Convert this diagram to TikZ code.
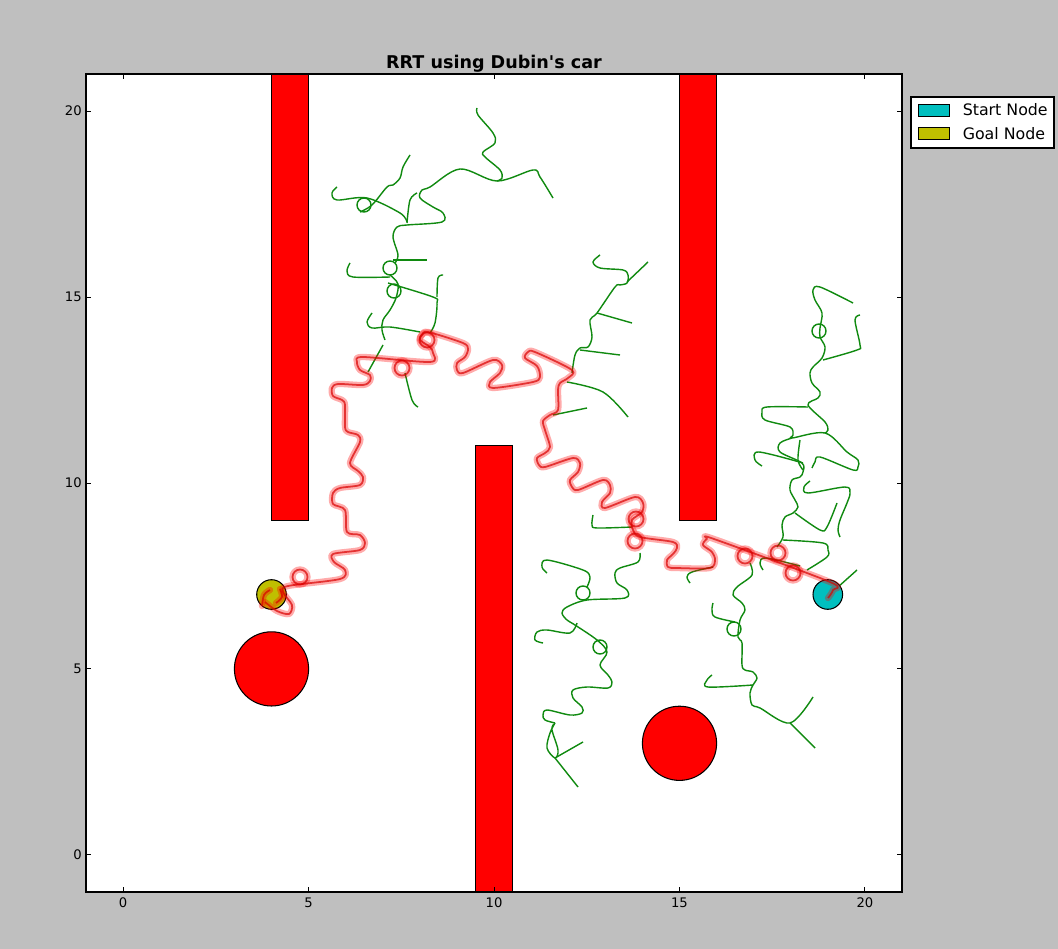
\documentclass[tikz,border=0pt]{standalone}
\usepackage{fontspec}
\setmainfont{DejaVu Sans}
\usetikzlibrary{positioning}
\definecolor{figgray}{HTML}{BFBFBF}
\definecolor{startc}{HTML}{00BFBF}
\definecolor{goalc}{HTML}{BFBF00}
\definecolor{treeg}{HTML}{108A10}

\begin{document}
\begin{tikzpicture}[
    x=0.02cm,y=-0.02cm,
    obst/.style={draw=black,line width=0.6pt,fill=red},
    tree/.style={draw=treeg,line width=0.8pt,line join=round},
    halo/.style={draw=red,opacity=0.33,line width=3.6pt,line join=round,line cap=round},
    route/.style={draw=red!85!black,opacity=0.7,line width=1pt,line join=round},
    ticklab/.style={font=\fontsize{7.5}{9}\selectfont,inner sep=0pt},
    legtext/.style={font=\fontsize{9}{11}\selectfont,inner sep=0pt,anchor=west},
    patch/.style={draw=black,line width=0.5pt,minimum width=0.62cm,minimum height=0.24cm,inner sep=0pt}
  ]
  % figure background and axes area
  \fill[figgray] (0,0) rectangle (1058,949);
  \fill[white] (86,74) rectangle (902,892);

  % obstacles
  \draw[obst] (271.5,74) rectangle (308.6,520.2);
  \draw[obst] (679.5,74) rectangle (716.5,520.2);
  \draw[obst] (475.5,892) rectangle (512.5,445.8);
  \draw[obst] (271.5,668.9) circle[radius=37.1];
  \draw[obst] (679.5,743.3) circle[radius=37.1];

  % explored tree
  \draw[tree] plot[smooth,tension=0.55] coordinates {(477,108) (478,115) (493,133) (495,143) (483,152) (485,157) (500,170) (502,178) (497,181)};
  \draw[tree] plot[smooth,tension=0.55] coordinates {(553,198) (540,177) (533,170) (497,181) (460,169) (430,187) (422,190) (420,198) (433,207) (443,213) (442,222) (407,225) (397,227) (393,237) (398,255) (395,263)};
  \draw[tree] (390,268) circle[radius=7];
  \draw[tree] plot[smooth,tension=0.55] coordinates {(390,275) (398,284) (396,298) (390,310) (383,320) (382,330) (385,340)};
  \draw[tree] (394,291) circle[radius=7];
  \draw[tree] plot[smooth,tension=0.55] coordinates {(350,263) (347,271) (353,277) (390,277)};
  \draw[tree] (393,260) -- (427,260);
  \draw[tree] plot[smooth,tension=0.55] coordinates {(410,155) (403,167) (400,178) (393,185) (387,187) (372,205) (360,212)};
  \draw[tree] (364,205) circle[radius=7];
  \draw[tree] plot[smooth,tension=0.55] coordinates {(337,187) (332,193) (337,200) (367,198) (400,213) (407,222)};
  \draw[tree] plot[smooth,tension=0.55] coordinates {(417,193) (410,200) (407,223)};
  \draw[tree] plot[smooth,tension=0.55] coordinates {(388,283) (433,297) (437,303) (435,323) (430,333)};
  \draw[tree] plot[smooth,tension=0.55] coordinates {(443,275) (438,278) (437,297)};
  \draw[tree] plot[smooth,tension=0.55] coordinates {(372,313) (367,322) (372,328) (390,327) (420,332)};
  \draw[tree] (383,345) -- (368,372);
  \draw[tree] plot[smooth,tension=0.55] coordinates {(405,373) (412,400) (418,407)};

  \draw[tree] plot[smooth,tension=0.55] coordinates {(572,373) (575,355) (580,348) (588,347) (592,337) (590,320) (597,313) (615,287) (620,285) (627,283) (628,275) (623,270) (600,268) (593,262) (600,255)};
  \draw[tree] (627,282) -- (648,262);
  \draw[tree] (597,313) -- (632,323);
  \draw[tree] (580,350) -- (620,355);
  \draw[tree] plot[smooth,tension=0.55] coordinates {(567,382) (603,392) (628,417)};
  \draw[tree] (553,415) -- (587,408);

  \draw[tree] plot[smooth,tension=0.55] coordinates {(853,303) (820,287) (813,290) (815,300) (822,313) (820,328) (820,337) (825,347) (822,358) (813,367) (810,373) (812,383) (820,392) (818,398) (808,405) (825,422) (828,430) (825,433)};
  \draw[tree] (819,331) circle[radius=7];
  \draw[tree] plot[smooth,tension=0.55] coordinates {(808,407) (767,407) (762,412) (765,420) (790,427) (793,435) (792,438) (825,433) (847,452) (858,460) (858,467) (853,470) (820,457) (815,462) (812,468)};
  \draw[tree] plot[smooth,tension=0.55] coordinates {(860,315) (855,320) (860,345) (857,350) (823,360)};
  \draw[tree] plot[smooth,tension=0.55] coordinates {(792,438) (780,443) (780,452) (802,463) (803,472) (800,477) (792,480) (790,490) (795,500) (798,507) (793,513) (785,517) (782,525) (783,537) (777,547)};
  \draw[tree] plot[smooth,tension=0.55] coordinates {(762,466) (755,460) (759,452) (803,463)};
  \draw[tree] plot[smooth,tension=0.55] coordinates {(800,440) (798,460) (803,470)};
  \draw[tree] plot[smooth,tension=0.55] coordinates {(810,481) (804,487) (808,493) (845,487) (850,493) (847,503) (840,520) (838,530) (840,537)};
  \draw[tree] plot[smooth,tension=0.55] coordinates {(795,513) (820,530) (827,527) (837,503)};
  \draw[tree] plot[smooth,tension=0.55] coordinates {(783,540) (823,543) (828,550) (827,557) (807,570)};
  \draw[tree] plot[smooth,tension=0.55] coordinates {(763,570) (760,563) (766,558) (800,566)};
  \draw[tree] (838,587) -- (857,570);

  \draw[tree] plot[smooth,tension=0.55] coordinates {(640,553) (638,562) (620,568) (615,573) (617,583) (627,590) (625,598) (587,600) (567,607) (562,613) (567,620) (575,625) (597,640) (607,652) (600,665) (608,675) (612,682) (608,688) (587,687) (573,690) (573,698) (582,707) (582,713) (570,715) (547,710) (543,715) (545,720) (555,723)};
  \draw[tree] (600,647) circle[radius=7];
  \draw[tree] plot[smooth,tension=0.55] coordinates {(555,723) (550,733) (547,748) (555,758) (558,750) (552,730) (554,724)};
  \draw[tree] (555,758) -- (583,742);
  \draw[tree] (555,758) -- (578,787);
  \draw[tree] plot[smooth,tension=0.55] coordinates {(543,643) (535,640) (537,632) (547,630) (570,633) (577,623)};
  \draw[tree] plot[smooth,tension=0.55] coordinates {(547,573) (542,567) (547,560) (583,570) (590,577) (587,587)};
  \draw[tree] (583,593) circle[radius=7];
  \draw[tree] plot[smooth,tension=0.55] coordinates {(593,515) (592,525) (597,528) (632,527)};

  \draw[tree] plot[smooth,tension=0.55] coordinates {(750,563) (752,575) (737,587) (733,595) (742,603) (745,610) (740,620) (738,637) (742,643) (742,665) (745,670) (753,672) (757,678) (753,685) (750,693) (752,705) (760,708) (790,723) (813,697)};
  \draw[tree] (734,629) circle[radius=7];
  \draw[tree] (790,723) -- (815,748);
  \draw[tree] plot[smooth,tension=0.55] coordinates {(713,603) (712,610) (715,617) (735,622)};
  \draw[tree] plot[smooth,tension=0.55] coordinates {(712,675) (707,680) (708,687) (753,685)};
  \draw[tree] plot[smooth,tension=0.55] coordinates {(690,583) (687,577) (692,572) (713,567)};

  % start and goal
  \draw[draw=black,line width=0.6pt,fill=startc] (827.8,594.5) circle[radius=14.8];
  \draw[draw=black,line width=0.6pt,fill=goalc] (271.5,594.5) circle[radius=14.8];

  % found route
  \foreach \lay in {halo,route}{
    \draw[\lay] plot[smooth,tension=0.5] coordinates {(265,602) (277,611) (289,614) (292,605) (283,592) (288,586) (340,579) (345,570) (334,562) (333,554) (360,550) (365,543) (360,535) (347,532) (345,510) (333,504) (333,493) (340,488) (360,485) (363,477) (358,471) (350,463) (360,442) (358,435) (348,432) (345,427) (345,405) (342,400) (333,396) (332,388) (338,384) (363,385) (370,381) (370,375) (360,370) (357,362) (363,357) (430,362) (433,353) (430,347) (420,340) (422,335) (428,332) (463,343) (468,349) (465,357) (457,363) (457,370) (463,373) (493,360) (502,365) (500,373) (490,382) (493,388) (533,382) (540,377) (537,366) (525,358) (528,352) (535,352) (572,370) (568,378) (560,383) (558,390) (558,410) (550,415) (543,421) (545,430) (550,447) (545,453) (537,458) (539,465) (545,467) (573,458) (580,463) (578,472) (570,480) (572,487) (578,490) (603,480) (610,485) (610,493) (602,502) (605,508) (635,497) (643,503) (642,512) (632,520) (633,530) (640,537) (673,542) (677,548) (673,554) (667,560) (668,567) (677,568) (710,568) (715,560) (712,552) (703,545) (707,539) (714,539) (830,582) (833,590) (828,598)};
    \draw[\lay] plot[smooth,tension=0.6] coordinates {(262,606) (264,595) (270,590)};
    \draw[\lay] plot[smooth,tension=0.6] coordinates {(276,603) (282,597) (280,589)};
    \foreach \cx/\cy in {300/577,402/368,427/340,636/519,635/541,745/556,778/553,793/573}
      \draw[\lay] (\cx,\cy) circle[radius=7.5];
  }

  % axes frame and ticks
  \draw[line width=0.6pt] (86,74) rectangle (902,892);
  \foreach \t in {0,5,10,15,20}{
    \draw[line width=0.5pt] ({123.1+37.09*\t},892) -- ++(0,-5);
    \draw[line width=0.5pt] ({123.1+37.09*\t},74) -- ++(0,5);
    \draw[line width=0.5pt] (86,{854.8-37.18*\t}) -- ++(5,0);
    \draw[line width=0.5pt] (902,{854.8-37.18*\t}) -- ++(-5,0);
    \node[ticklab] (xt\t) at ({123.1+37.09*\t},903) {\t};
    \node[ticklab,anchor=east] (yt\t) at (82,{854.8-37.18*\t}) {\t};
  }

  % title
  \node[font=\bfseries\fontsize{10}{12}\selectfont,inner sep=0pt,anchor=base] (title) at (494,69) {RRT using Dubin\textquotesingle s car};

  % legend
  \draw[line width=0.6pt,fill=white] (911,97) rectangle (1054,148);
  \node[patch,fill=startc] (startpatch) at (933.5,110) {};
  \node[patch,fill=goalc,below=0.22cm of startpatch] (goalpatch) {};
  \node[legtext,right=0.26cm of startpatch] (starttext) {Start Node};
  \node[legtext,right=0.26cm of goalpatch] (goaltext) {Goal Node};
\end{tikzpicture}
\end{document}
